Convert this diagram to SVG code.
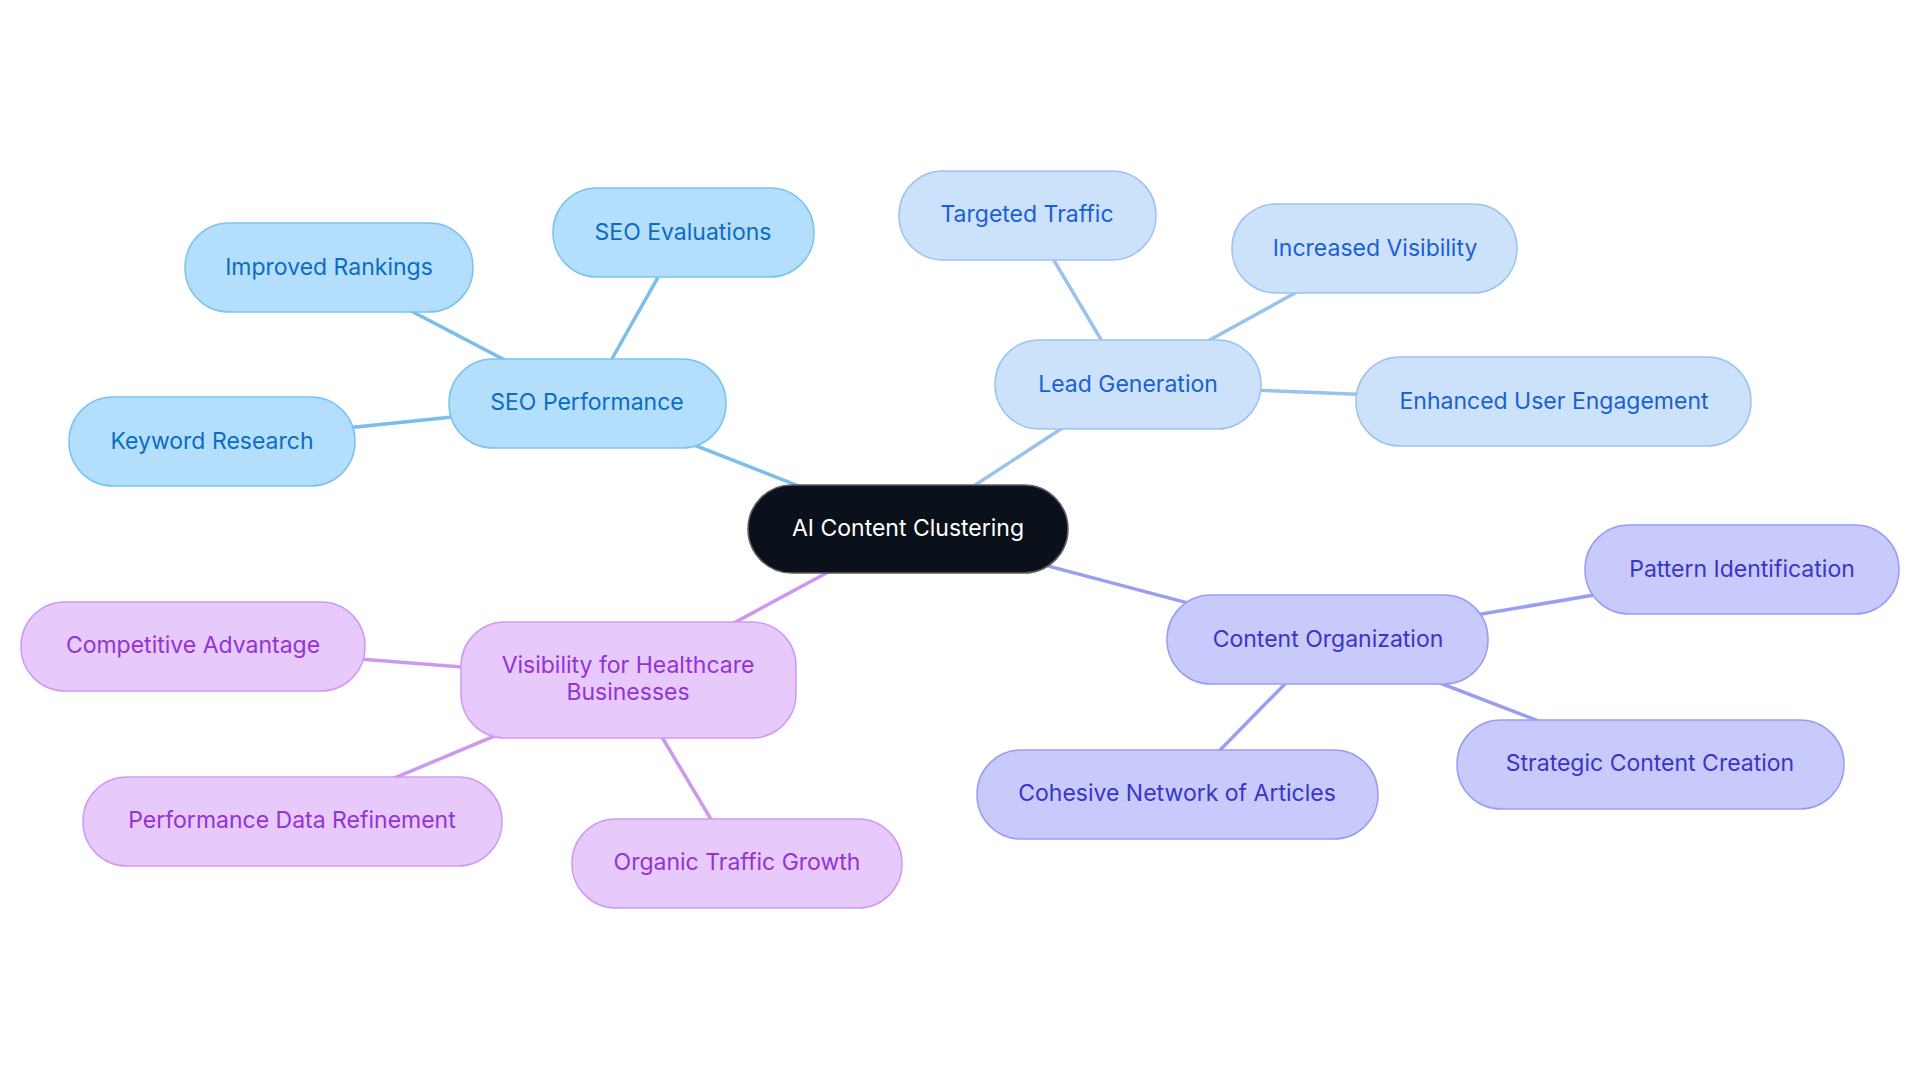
<svg xmlns="http://www.w3.org/2000/svg" width="1920" height="1083" viewBox="0 0 1920 1083">
<style>
text{font-family:Inter,"Noto Sans","Liberation Sans",sans-serif;font-size:23px;text-anchor:middle;dominant-baseline:central}
.c0 rect{fill:#0B111B;stroke:#5A5F66;stroke-width:1.5}
.c0 text{fill:#FFFFFF}
.seo rect{fill:#B3DFFD;stroke:#7CC3F0;stroke-width:1.5}
.seo text{fill:#0D6CC1}
.lead rect{fill:#CCE2FB;stroke:#9DC4F0;stroke-width:1.5}
.lead text{fill:#1A5FD3}
.org rect{fill:#C8CAFC;stroke:#9A9EF2;stroke-width:1.5}
.org text{fill:#3A35C7}
.vis rect{fill:#E7C9FC;stroke:#CE9CF2;stroke-width:1.5}
.vis text{fill:#9333D5}
#edges line{stroke-width:3.5;fill:none}
.e-seo{stroke:#7BBEEB}
.e-lead{stroke:#99C2EE}
.e-org{stroke:#9B9EF0}
.e-vis{stroke:#CC99F0}
</style>
<rect width="1920" height="1083" fill="#FFFFFF"/>
<g id="edges">
<line class="e-seo" x1="908" y1="529" x2="587" y2="403"/>
<line class="e-seo" x1="587" y1="403" x2="329" y2="268"/>
<line class="e-seo" x1="587" y1="403" x2="683" y2="233"/>
<line class="e-seo" x1="587" y1="403" x2="212" y2="442"/>
<line class="e-lead" x1="908" y1="529" x2="1128" y2="385"/>
<line class="e-lead" x1="1128" y1="385" x2="1027" y2="215"/>
<line class="e-lead" x1="1128" y1="385" x2="1375" y2="249"/>
<line class="e-lead" x1="1128" y1="385" x2="1554" y2="402"/>
<line class="e-org" x1="908" y1="529" x2="1328" y2="640"/>
<line class="e-org" x1="1328" y1="640" x2="1742" y2="570"/>
<line class="e-org" x1="1328" y1="640" x2="1650" y2="764"/>
<line class="e-org" x1="1328" y1="640" x2="1177" y2="794"/>
<line class="e-vis" x1="908" y1="529" x2="628" y2="680"/>
<line class="e-vis" x1="628" y1="680" x2="193" y2="646"/>
<line class="e-vis" x1="628" y1="680" x2="292" y2="821"/>
<line class="e-vis" x1="628" y1="680" x2="737" y2="863"/>
</g>
<g id="n-center" class="c0"><rect x="748" y="485" width="320" height="88" rx="44"/><text x="908" y="528">AI Content Clustering</text></g>
<g id="n-seo" class="seo"><rect x="449" y="359" width="277" height="89" rx="44"/><text x="587" y="402">SEO Performance</text></g>
<g id="n-rank" class="seo"><rect x="185" y="223" width="288" height="89" rx="44"/><text x="329" y="267">Improved Rankings</text></g>
<g id="n-eval" class="seo"><rect x="553" y="188" width="261" height="89" rx="44"/><text x="683" y="232">SEO Evaluations</text></g>
<g id="n-kw" class="seo"><rect x="69" y="397" width="286" height="89" rx="44"/><text x="212" y="441">Keyword Research</text></g>
<g id="n-lead" class="lead"><rect x="995" y="340" width="266" height="89" rx="44"/><text x="1128" y="384">Lead Generation</text></g>
<g id="n-tt" class="lead"><rect x="899" y="171" width="257" height="89" rx="44"/><text x="1027" y="214">Targeted Traffic</text></g>
<g id="n-iv" class="lead"><rect x="1232" y="204" width="285" height="89" rx="44"/><text x="1375" y="248">Increased Visibility</text></g>
<g id="n-eue" class="lead"><rect x="1356" y="357" width="395" height="89" rx="44"/><text x="1554" y="401">Enhanced User Engagement</text></g>
<g id="n-org" class="org"><rect x="1167" y="595" width="321" height="89" rx="44"/><text x="1328" y="639">Content Organization</text></g>
<g id="n-pi" class="org"><rect x="1585" y="525" width="314" height="89" rx="44"/><text x="1742" y="569">Pattern Identification</text></g>
<g id="n-scc" class="org"><rect x="1457" y="720" width="387" height="89" rx="44"/><text x="1650" y="763">Strategic Content Creation</text></g>
<g id="n-cna" class="org"><rect x="977" y="750" width="401" height="89" rx="44"/><text x="1177" y="793">Cohesive Network of Articles</text></g>
<g id="n-vis" class="vis"><rect x="461" y="622" width="335" height="116" rx="44"/><text x="628" y="665">Visibility for Healthcare</text><text x="628" y="692">Businesses</text></g>
<g id="n-ca" class="vis"><rect x="21" y="602" width="344" height="89" rx="44"/><text x="193" y="645">Competitive Advantage</text></g>
<g id="n-pdr" class="vis"><rect x="83" y="777" width="419" height="89" rx="44"/><text x="292" y="820">Performance Data Refinement</text></g>
<g id="n-otg" class="vis"><rect x="572" y="819" width="330" height="89" rx="44"/><text x="737" y="862">Organic Traffic Growth</text></g>
</svg>
